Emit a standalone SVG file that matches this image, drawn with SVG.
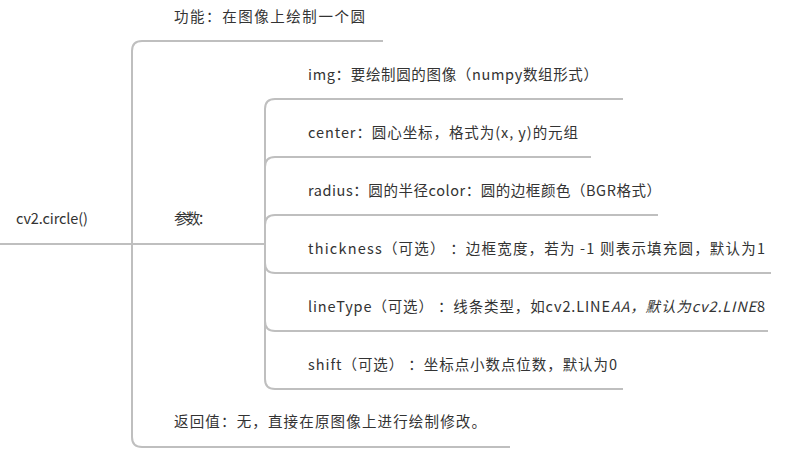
<svg xmlns="http://www.w3.org/2000/svg" width="788" height="460" viewBox="0 0 788 460">
<style>
.l{fill:none;stroke:#bfbfbf;stroke-width:2}
text{font-family:"Noto Sans CJK SC","Microsoft YaHei",sans-serif;font-size:14.5px;fill:#333}
</style>
<rect width="788" height="460" fill="#fff"/>
<g id="connectors">
<path class="l" d="M0,244H265"/>
<path class="l" d="M132,244V51Q132,41 142,41H383"/>
<path class="l" d="M132,244V437Q132,447 142,447H510"/>
<path class="l" d="M265,244V109Q265,99 275,99H623"/>
<path class="l" d="M265,244V167Q265,157 275,157H591"/>
<path class="l" d="M265,244V225Q265,215 275,215H658"/>
<path class="l" d="M265,244V263Q265,273 275,273H771"/>
<path class="l" d="M265,244V321Q265,331 275,331H768"/>
<path class="l" d="M265,244V379Q265,389 275,389H623"/>
</g>
<g id="root"><text x="16" y="224" textLength="72">cv2.circle()</text></g>
<g id="func"><text x="174" y="22" textLength="191">功能：在图像上绘制一个圆</text></g>
<g id="params"><text x="174" y="224" textLength="38">参数：</text></g>
<g id="ret"><text x="174" y="427" textLength="312">返回值：无，直接在原图像上进行绘制修改。</text></g>
<g id="img"><text x="308" y="80" textLength="290">img：要绘制圆的图像（numpy数组形式）</text></g>
<g id="center"><text x="308" y="138" textLength="270">center：圆心坐标，格式为(x, y)的元组</text></g>
<g id="radius"><text x="308" y="196" textLength="353">radius：圆的半径color：圆的边框颜色（BGR格式）</text></g>
<g id="thickness"><text x="308" y="254" textLength="457">thickness（可选） ：边框宽度，若为 -1 则表示填充圆，默认为1</text></g>
<g id="lineType"><text x="308" y="312" textLength="457">lineType（可选） ：线条类型，如cv2.LINE<tspan font-style="italic">AA，默认为cv2.LINE</tspan>8</text></g>
<g id="shift"><text x="308" y="370" textLength="309">shift（可选） ：坐标点小数点位数，默认为0</text></g>
</svg>
